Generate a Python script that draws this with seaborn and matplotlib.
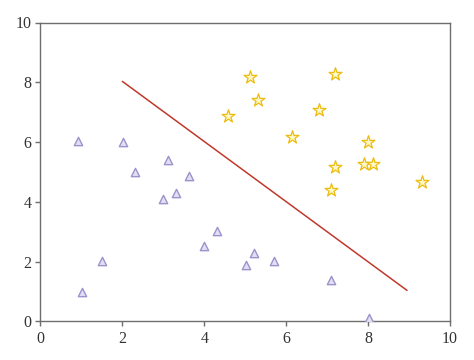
import matplotlib
matplotlib.use("Agg")
import matplotlib.pyplot as plt
import seaborn as sns
import pandas as pd

tri_x = [0.91, 2.02, 1.01, 1.51, 2.31, 3.00, 3.12, 3.32, 3.62, 3.99, 4.30, 5.01, 5.21, 5.70, 7.10, 8.02]
tri_y = [6.03, 6.01, 0.97, 2.01, 4.99, 4.09, 5.40, 4.29, 4.88, 2.51, 3.01, 1.90, 2.30, 2.02, 1.40, 0.13]

star_x = [5.11, 7.20, 5.31, 4.59, 6.81, 6.13, 7.99, 7.20, 7.89, 8.13, 7.09, 9.32]
star_y = [8.19, 8.28, 7.41, 6.87, 7.09, 6.16, 6.00, 5.17, 5.28, 5.27, 4.39, 4.67]

line_x = [2.0, 8.95]
line_y = [8.03, 1.04]

ticks = [0, 2, 4, 6, 8, 10]

sns.set_style("white")
plt.rcParams['font.family'] = ['Liberation Serif', 'DejaVu Serif']

fig = plt.figure(figsize=(4.74, 3.6), dpi=100)
ax = fig.add_axes([0.0854, 0.107, 0.864, 0.8305])

tri = pd.DataFrame({"x": tri_x, "y": tri_y})
stars = pd.DataFrame({"x": star_x, "y": star_y})
line = pd.DataFrame({"x": line_x, "y": line_y})

sns.lineplot(data=line, x="x", y="y", ax=ax, color="#c0392b", linewidth=1.1)
sns.scatterplot(data=tri, x="x", y="y", ax=ax, marker="^", s=36,
                facecolor="#e2def3", edgecolor="#9b94cc", linewidth=1.0, zorder=3)
sns.scatterplot(data=stars, x="x", y="y", ax=ax, marker="*", s=95,
                facecolor="#fff8c8", edgecolor="#ecbc10", linewidth=0.9, zorder=3)

ax.set_xlim(0, 10)
ax.set_ylim(0, 10)
ax.set_xticks(ticks)
ax.set_yticks(ticks)
ax.set_xticklabels([str(t) for t in ticks])
ax.set_yticklabels([str(t) for t in ticks])
ax.set_xlabel("")
ax.set_ylabel("")
for s in ax.spines.values():
    s.set_color("#6e6e6e")
    s.set_linewidth(1.0)
ax.tick_params(axis="both", which="both", bottom=True, left=True, top=False, right=False,
               direction="out", length=3.5, width=1.0, color="#6e6e6e",
               labelsize=11.5, labelcolor="#333333", pad=3)

fig.savefig("out.png", dpi=100)
